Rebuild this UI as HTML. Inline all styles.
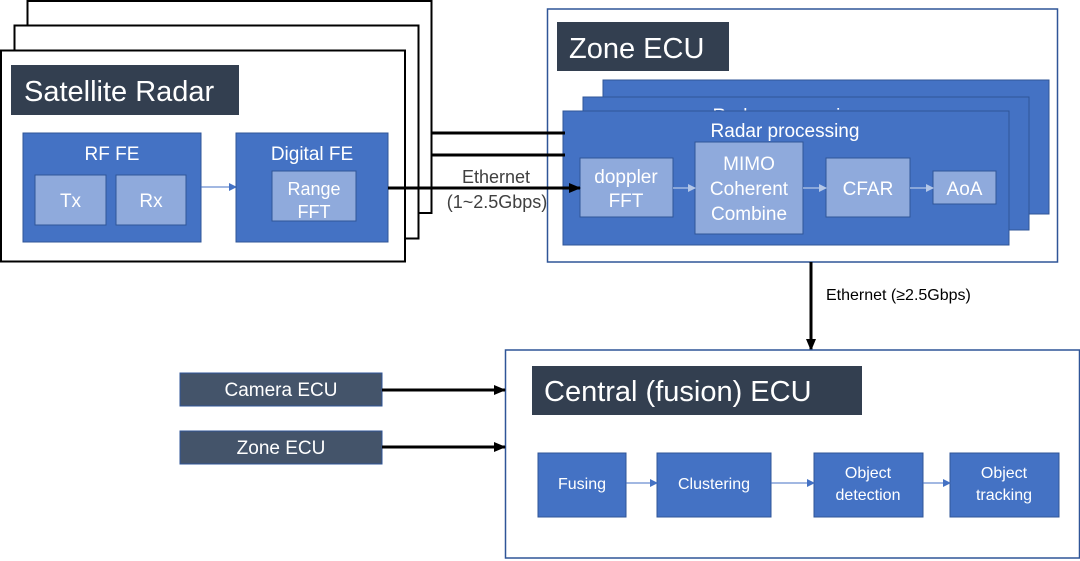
<!DOCTYPE html>
<html><head><meta charset="utf-8"><style>
html,body{margin:0;padding:0;background:#fff;}
svg{display:block;font-family:"Liberation Sans",Arial,sans-serif;}
</style></head><body>
<svg width="1080" height="561" viewBox="0 0 1080 561" xmlns="http://www.w3.org/2000/svg">
<defs>
<marker id="ab" markerWidth="12" markerHeight="12" refX="11" refY="6" orient="auto" markerUnits="userSpaceOnUse"><path d="M0,1 L12,6 L0,11 z" fill="#000"/></marker>
<marker id="al" markerWidth="8" markerHeight="8" refX="7" refY="4" orient="auto" markerUnits="userSpaceOnUse"><path d="M0,0 L8,4 L0,8 z" fill="#4472c4"/></marker>
<marker id="aw" markerWidth="8" markerHeight="8" refX="7" refY="4" orient="auto" markerUnits="userSpaceOnUse"><path d="M0,0 L8,4 L0,8 z" fill="#b4c7e7"/></marker>
</defs>
<!-- Satellite stack -->
<rect x="27.5" y="1" width="404" height="212" fill="#fff" stroke="#000" stroke-width="2"/>
<rect x="14.5" y="25.5" width="404" height="213" fill="#fff" stroke="#000" stroke-width="2"/>
<rect x="1" y="50.5" width="404" height="211" fill="#fff" stroke="#000" stroke-width="2"/>
<rect x="11" y="65" width="228" height="50" fill="#333f50"/>
<text x="24" y="101" font-size="29" fill="#fff">Satellite Radar</text>
<rect x="23" y="133" width="178" height="109" fill="#4472c4" stroke="#2f5597"/>
<text x="112" y="160" font-size="19" fill="#fff" text-anchor="middle">RF FE</text>
<rect x="35" y="175" width="71" height="50" fill="#8faadc" stroke="#2f5597"/>
<text x="70.5" y="207" font-size="19" fill="#fff" text-anchor="middle">Tx</text>
<rect x="116" y="175" width="70" height="50" fill="#8faadc" stroke="#2f5597"/>
<text x="151" y="207" font-size="19" fill="#fff" text-anchor="middle">Rx</text>
<line x1="201" y1="187" x2="236" y2="187" stroke="#4472c4" stroke-width="1" marker-end="url(#al)"/>
<rect x="236" y="133" width="152" height="109" fill="#4472c4" stroke="#2f5597"/>
<text x="312" y="160" font-size="19" fill="#fff" text-anchor="middle">Digital FE</text>
<rect x="272" y="171" width="84" height="50" fill="#8faadc" stroke="#2f5597"/>
<text x="314" y="195" font-size="18" fill="#fff" text-anchor="middle">Range</text>
<text x="314" y="218" font-size="18" fill="#fff" text-anchor="middle">FFT</text>
<!-- Zone ECU -->
<rect x="547.5" y="9" width="510" height="253" fill="#fff" stroke="#2f5597" stroke-width="1.5"/>
<rect x="557" y="22" width="172" height="49" fill="#333f50"/>
<text x="569" y="58" font-size="29" fill="#fff">Zone ECU</text>
<rect x="603" y="80" width="446" height="134" fill="#4472c4" stroke="#2f5597"/>
<rect x="583" y="97" width="446" height="133" fill="#4472c4" stroke="#2f5597"/>
<text x="787" y="122" font-size="19" fill="#fff" text-anchor="middle">Radar processing</text>
<rect x="563" y="111" width="446" height="134" fill="#4472c4" stroke="#2f5597"/>
<text x="785" y="137" font-size="19" fill="#fff" text-anchor="middle">Radar processing</text>
<rect x="580" y="158" width="93" height="59" fill="#8faadc" stroke="#2f5597"/>
<text x="626" y="183" font-size="19" fill="#fff" text-anchor="middle">doppler</text>
<text x="626" y="207" font-size="19" fill="#fff" text-anchor="middle">FFT</text>
<rect x="695" y="142" width="108" height="92" fill="#8faadc" stroke="#2f5597"/>
<text x="749" y="170" font-size="19" fill="#fff" text-anchor="middle">MIMO</text>
<text x="749" y="195" font-size="19" fill="#fff" text-anchor="middle">Coherent</text>
<text x="749" y="220" font-size="19" fill="#fff" text-anchor="middle">Combine</text>
<rect x="826" y="158" width="84" height="59" fill="#8faadc" stroke="#2f5597"/>
<text x="868" y="195" font-size="19" fill="#fff" text-anchor="middle">CFAR</text>
<rect x="933" y="171" width="63" height="33" fill="#8faadc" stroke="#2f5597"/>
<text x="964.5" y="195" font-size="19" fill="#fff" text-anchor="middle">AoA</text>
<line x1="673" y1="188" x2="695" y2="188" stroke="#b4c7e7" stroke-width="1.2" marker-end="url(#aw)"/>
<line x1="803" y1="188" x2="826" y2="188" stroke="#b4c7e7" stroke-width="1.2" marker-end="url(#aw)"/>
<line x1="910" y1="188" x2="933" y2="188" stroke="#b4c7e7" stroke-width="1.2" marker-end="url(#aw)"/>
<!-- connectors -->
<line x1="432" y1="133" x2="565" y2="133" stroke="#000" stroke-width="3"/>
<line x1="432" y1="155" x2="565" y2="155" stroke="#000" stroke-width="3"/>
<line x1="388" y1="188" x2="580" y2="188" stroke="#000" stroke-width="3" marker-end="url(#ab)"/>
<text x="496" y="183" font-size="18" fill="#404040" text-anchor="middle">Ethernet</text>
<text x="497" y="208" font-size="18" fill="#404040" text-anchor="middle">(1~2.5Gbps)</text>
<line x1="811" y1="262" x2="811" y2="350" stroke="#000" stroke-width="3" marker-end="url(#ab)"/>
<text x="826" y="300" font-size="16" fill="#000">Ethernet (≥2.5Gbps)</text>
<!-- Central -->
<rect x="505.5" y="350" width="574" height="208" fill="#fff" stroke="#2f5597" stroke-width="1.5"/>
<rect x="532" y="366" width="330" height="49" fill="#333f50"/>
<text x="544" y="401" font-size="29" fill="#fff">Central (fusion) ECU</text>
<rect x="538" y="453" width="88" height="64" fill="#4472c4" stroke="#2f5597"/>
<text x="582" y="489" font-size="16" fill="#fff" text-anchor="middle">Fusing</text>
<rect x="657" y="453" width="114" height="64" fill="#4472c4" stroke="#2f5597"/>
<text x="714" y="489" font-size="16" fill="#fff" text-anchor="middle">Clustering</text>
<rect x="814" y="453" width="109" height="64" fill="#4472c4" stroke="#2f5597"/>
<text x="868" y="478" font-size="16" fill="#fff" text-anchor="middle">Object</text>
<text x="868" y="500" font-size="16" fill="#fff" text-anchor="middle">detection</text>
<rect x="950" y="453" width="109" height="64" fill="#4472c4" stroke="#2f5597"/>
<text x="1004" y="478" font-size="16" fill="#fff" text-anchor="middle">Object</text>
<text x="1004" y="500" font-size="16" fill="#fff" text-anchor="middle">tracking</text>
<line x1="626" y1="483" x2="657" y2="483" stroke="#4472c4" stroke-width="1" marker-end="url(#al)"/>
<line x1="771" y1="483" x2="814" y2="483" stroke="#4472c4" stroke-width="1" marker-end="url(#al)"/>
<line x1="923" y1="483" x2="950" y2="483" stroke="#4472c4" stroke-width="1" marker-end="url(#al)"/>
<!-- Camera/Zone -->
<rect x="180" y="373" width="202" height="33" fill="#44546a" stroke="#2f5597"/>
<text x="281" y="396" font-size="19" fill="#fff" text-anchor="middle">Camera ECU</text>
<rect x="180" y="431" width="202" height="33" fill="#44546a" stroke="#2f5597"/>
<text x="281" y="454" font-size="19" fill="#fff" text-anchor="middle">Zone ECU</text>
<line x1="382" y1="390" x2="505" y2="390" stroke="#000" stroke-width="3" marker-end="url(#ab)"/>
<line x1="382" y1="447" x2="505" y2="447" stroke="#000" stroke-width="3" marker-end="url(#ab)"/>
</svg>
</body></html>
